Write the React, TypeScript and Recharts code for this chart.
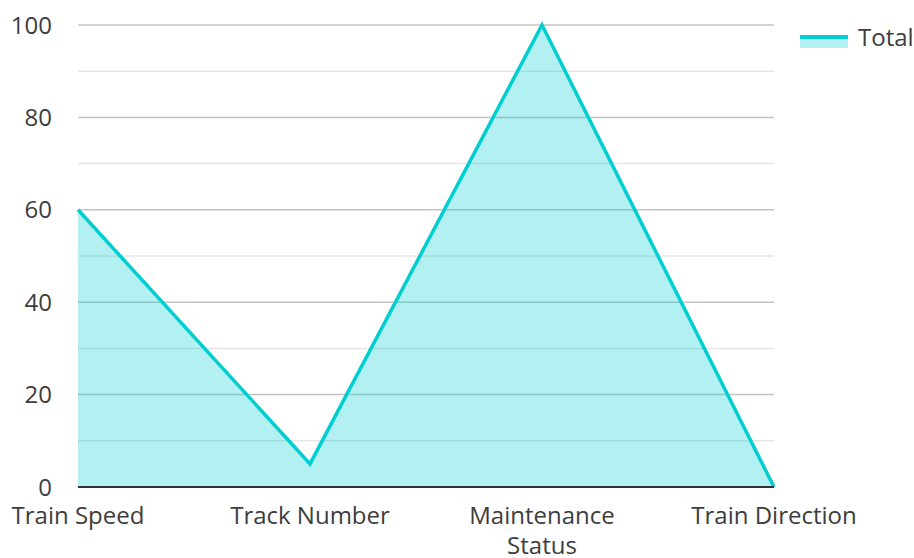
import React from "react";
import { ComposedChart, Area, XAxis, YAxis, CartesianGrid } from "recharts";

const categories = ["Train Speed", "Track Number", "Maintenance Status", "Train Direction"];
const totals = [60, 5, 100, 0];
const majorTicks = [0, 20, 40, 60, 80, 100];
const minorTicks = [10, 30, 50, 70, 90];
const seriesName = "Total";

const data = categories.map((c, i) => ({ name: c, total: totals[i] }));

const FONT = "'Open Sans', sans-serif";
const TEXT = "#3d3d3d";
const LINE = "#00CED1";

const YTick = (props: any) => {
  const { x, y, payload } = props;
  return (
    <text x={x - 18} y={y} dy={8.5} textAnchor="end" fontFamily={FONT} fontSize={24} fill={TEXT}>
      {payload.value}
    </text>
  );
};

const XTick = (props: any) => {
  const { x, y, payload } = props;
  const label: string = payload.value;
  const lines = label.length > 16 ? label.split(" ") : [label];
  return (
    <text x={x} y={y} textAnchor="middle" fontFamily={FONT} fontSize={24} fill={TEXT}>
      {lines.map((l, i) => (
        <tspan key={i} x={x} dy={i === 0 ? 29 : 30}>
          {l}
        </tspan>
      ))}
    </text>
  );
};

export default function App() {
  return (
    <div style={{ position: "absolute", left: 0, top: 0, width: 914, height: 558, background: "#fff" }}>
      <ComposedChart
        width={914}
        height={558}
        data={data}
        margin={{ top: 25, right: 140, bottom: 5, left: 0 }}
      >
        <CartesianGrid vertical={false} horizontalValues={minorTicks} stroke="#e6e6e6" strokeWidth={1.5} />
        <CartesianGrid vertical={false} horizontalValues={majorTicks} stroke="#c4c4c4" strokeWidth={1.5} />
        <XAxis
          dataKey="name"
          height={66}
          tick={<XTick />}
          tickLine={false}
          axisLine={{ stroke: "#333", strokeWidth: 2 }}
          interval={0}
        />
        <YAxis
          width={78}
          domain={[0, 100]}
          ticks={majorTicks}
          tick={<YTick />}
          tickLine={false}
          axisLine={false}
        />
        <Area
          type="linear"
          dataKey="total"
          name={seriesName}
          stroke={LINE}
          strokeWidth={3.5}
          fill={LINE}
          fillOpacity={0.3}
          dot={false}
          activeDot={false}
          isAnimationActive={false}
        />
      </ComposedChart>
      <div style={{ position: "absolute", left: 800, top: 24, display: "flex", alignItems: "center" }}>
        <svg width={48} height={26}>
          <rect x={0} y={12} width={48} height={12} fill={LINE} fillOpacity={0.3} />
          <line x1={0} y1={13} x2={48} y2={13} stroke={LINE} strokeWidth={4} />
        </svg>
        <span style={{ marginLeft: 10, fontFamily: FONT, fontSize: 24, color: TEXT, lineHeight: "26px" }}>{seriesName}</span>
      </div>
    </div>
  );
}
